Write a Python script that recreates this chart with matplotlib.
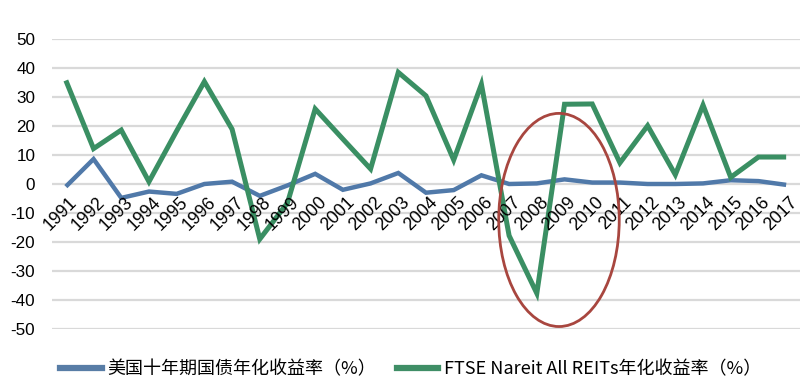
import matplotlib
matplotlib.use("Agg")
import matplotlib.pyplot as plt
import matplotlib.transforms as mtransforms
from matplotlib.patches import Ellipse
from matplotlib.lines import Line2D

years = [str(y) for y in range(1991, 2018)]
treasury = [-0.9, 8.6, -4.8, -2.6, -3.4, 0.0, 0.8, -4.1, -0.5, 3.5, -2.0, 0.2, 3.8,
            -3.0, -2.1, 3.0, 0.0, 0.2, 1.6, 0.5, 0.5, 0.0, 0.0, 0.2, 1.3, 1.0, -0.3]
reits = [35.7, 12.2, 18.6, 0.8, 18.3, 35.3, 18.9, -19.0, -6.5, 25.9, 15.5, 5.2, 38.5,
         30.4, 8.3, 34.4, -17.8, -37.7, 27.5, 27.6, 7.3, 20.1, 3.2, 27.2, 2.3, 9.3, 9.3]
yticks = [50, 40, 30, 20, 10, 0, -10, -20, -30, -40, -50]
label_treasury = "美国十年期国债年化收益率（%）"
label_reits = "FTSE Nareit All REITs年化收益率（%）"

blue = "#5079A9"
green = "#3A8F63"
red = "#A8463F"

fig = plt.figure(figsize=(8.11, 3.8), dpi=100)
ax = fig.add_axes([52/811, 1-329/380, 748/811, 290/380])

x = list(range(len(years)))
ax.plot(x, treasury, color=blue, lw=3.2, solid_capstyle="butt", solid_joinstyle="miter", zorder=3)
ax.plot(x, reits, color=green, lw=3.6, solid_capstyle="butt", solid_joinstyle="miter", zorder=3)

ax.set_xlim(-0.5, len(years) - 0.5)
ax.set_ylim(-50, 50)
ax.set_yticks(yticks)
ax.set_yticklabels([str(v) if v >= 0 else "-" + str(-v) for v in yticks],
                   fontsize=12.3, family="Liberation Sans")
ax.tick_params(axis="y", length=0, pad=12)
ax.set_xticks([])
for s in ax.spines.values():
    s.set_visible(False)
ax.grid(axis="y", color="#D9D9D9", lw=1.6, zorder=0)
ax.set_axisbelow(True)

offset = mtransforms.ScaledTranslation(3/100, -10/100, fig.dpi_scale_trans)
for i, lab in enumerate(years):
    ax.text(i, 0, lab, rotation=45, ha="right", va="top", rotation_mode="anchor",
            fontsize=12.8, family="Liberation Sans", transform=ax.transData + offset, zorder=4)

ell = Ellipse((17.8, -12.4), width=4.35, height=73.5, fill=False, edgecolor=red, lw=2.0, zorder=5)
ax.add_patch(ell)

handles = [Line2D([], [], color="#587DA6", lw=4.5), Line2D([], [], color="#3F8E66", lw=4.5)]
leg = fig.legend(handles, [label_treasury, label_reits], ncol=2, frameon=False,
                 loc="center left", bbox_to_anchor=(44/811, 1-369/380),
                 handlelength=2.3, handletextpad=0.3, columnspacing=1.15,
                 prop={"family": ["Noto Sans CJK SC", "DejaVu Sans"], "size": 13})

fig.savefig("out.png", dpi=100)
